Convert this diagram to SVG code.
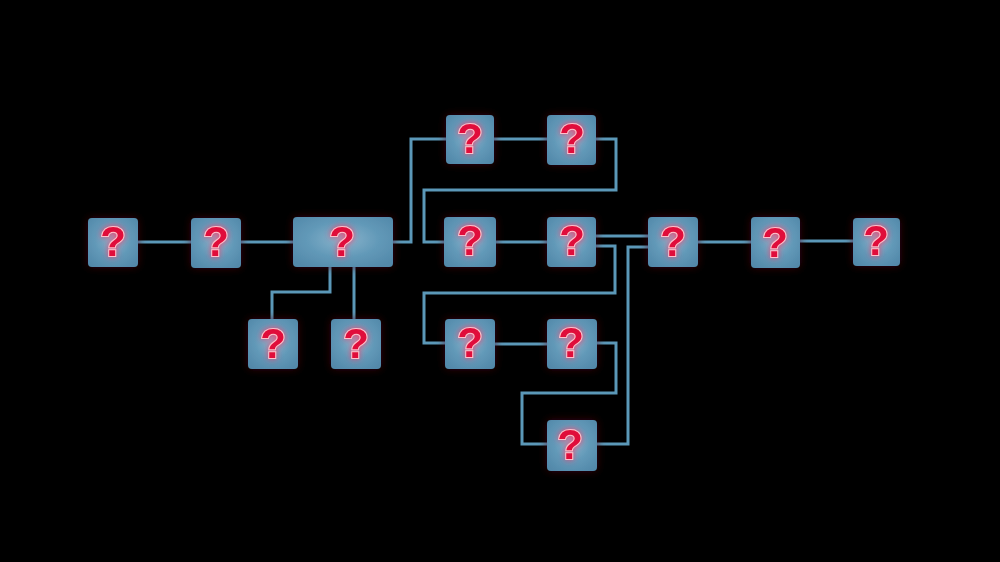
<svg xmlns="http://www.w3.org/2000/svg" width="1000" height="562" viewBox="0 0 1000 562">
<defs>
<radialGradient id="nodeFill" cx="50%" cy="45%" r="65%">
<stop offset="0" stop-color="#8ab4cc"/>
<stop offset="0.55" stop-color="#6299b8"/>
<stop offset="1" stop-color="#5389aa"/>
</radialGradient>
<filter id="glow" x="-50%" y="-50%" width="200%" height="200%">
<feGaussianBlur in="SourceAlpha" stdDeviation="3" result="b"/>
<feFlood flood-color="#ff3a6a" flood-opacity="0.95"/>
<feComposite in2="b" operator="in" result="g"/>
<feMerge><feMergeNode in="g"/><feMergeNode in="SourceGraphic"/></feMerge>
</filter>
<filter id="nodeGlow" x="-30%" y="-30%" width="160%" height="160%">
<feGaussianBlur in="SourceAlpha" stdDeviation="4" result="b"/>
<feFlood flood-color="#501018" flood-opacity="0.7"/>
<feComposite in2="b" operator="in" result="g"/>
<feMerge><feMergeNode in="g"/><feMergeNode in="SourceGraphic"/></feMerge>
</filter>
</defs>
<style>
.box{fill:url(#nodeFill);filter:url(#nodeGlow)}
.q{font-family:"Liberation Sans",Arial,sans-serif;font-weight:bold;font-size:42px;fill:#e0103a;stroke:#ffc0cc;stroke-width:2;paint-order:stroke;text-anchor:middle;filter:url(#glow)}
.wire{fill:none;stroke:#5b98b8;stroke-width:3;stroke-linejoin:miter}
</style>
<rect width="1000" height="562" fill="#000"/>
<g id="connectors">
<path class="wire" d="M138,242 H191"/>
<path class="wire" d="M241,242 H293"/>
<path class="wire" d="M330,267 V292 H272 V319"/>
<path class="wire" d="M354,267 V319"/>
<path class="wire" d="M393,242 H411 V139 H446"/>
<path class="wire" d="M494,139 H547"/>
<path class="wire" d="M596,139 H616 V190 H424 V242 H444"/>
<path class="wire" d="M496,242 H547"/>
<path class="wire" d="M596,236 H648"/>
<path class="wire" d="M596,246 H615 V293 H424 V343 H445"/>
<path class="wire" d="M495,344 H547"/>
<path class="wire" d="M597,343 H616 V393 H522 V444 H547"/>
<path class="wire" d="M597,444 H628 V247 H648"/>
<path class="wire" d="M698,242 H751"/>
<path class="wire" d="M800,241 H853"/>
</g>
<g id="n1"><rect class="box" x="88" y="218" width="50" height="49" rx="4"/><text class="q" x="113" y="256">?</text></g>
<g id="n2"><rect class="box" x="191" y="218" width="50" height="50" rx="4"/><text class="q" x="216" y="256">?</text></g>
<g id="n3"><rect class="box" x="293" y="217" width="100" height="50" rx="4"/><text class="q" x="342" y="256">?</text></g>
<g id="n4"><rect class="box" x="248" y="319" width="50" height="50" rx="4"/><text class="q" x="273" y="358">?</text></g>
<g id="n5"><rect class="box" x="331" y="319" width="50" height="50" rx="4"/><text class="q" x="356" y="358">?</text></g>
<g id="n6"><rect class="box" x="446" y="115" width="48" height="49" rx="4"/><text class="q" x="470" y="153">?</text></g>
<g id="n7"><rect class="box" x="547" y="115" width="49" height="50" rx="4"/><text class="q" x="572" y="153">?</text></g>
<g id="n8"><rect class="box" x="444" y="217" width="52" height="50" rx="4"/><text class="q" x="470" y="255">?</text></g>
<g id="n9"><rect class="box" x="547" y="217" width="49" height="50" rx="4"/><text class="q" x="572" y="255">?</text></g>
<g id="n10"><rect class="box" x="445" y="319" width="50" height="50" rx="4"/><text class="q" x="470" y="357">?</text></g>
<g id="n11"><rect class="box" x="547" y="319" width="50" height="50" rx="4"/><text class="q" x="571" y="357">?</text></g>
<g id="n12"><rect class="box" x="547" y="420" width="50" height="51" rx="4"/><text class="q" x="570" y="459">?</text></g>
<g id="n13"><rect class="box" x="648" y="217" width="50" height="50" rx="4"/><text class="q" x="673" y="256">?</text></g>
<g id="n14"><rect class="box" x="751" y="217" width="49" height="51" rx="4"/><text class="q" x="775" y="257">?</text></g>
<g id="n15"><rect class="box" x="853" y="218" width="47" height="48" rx="4"/><text class="q" x="876" y="255">?</text></g>
</svg>
